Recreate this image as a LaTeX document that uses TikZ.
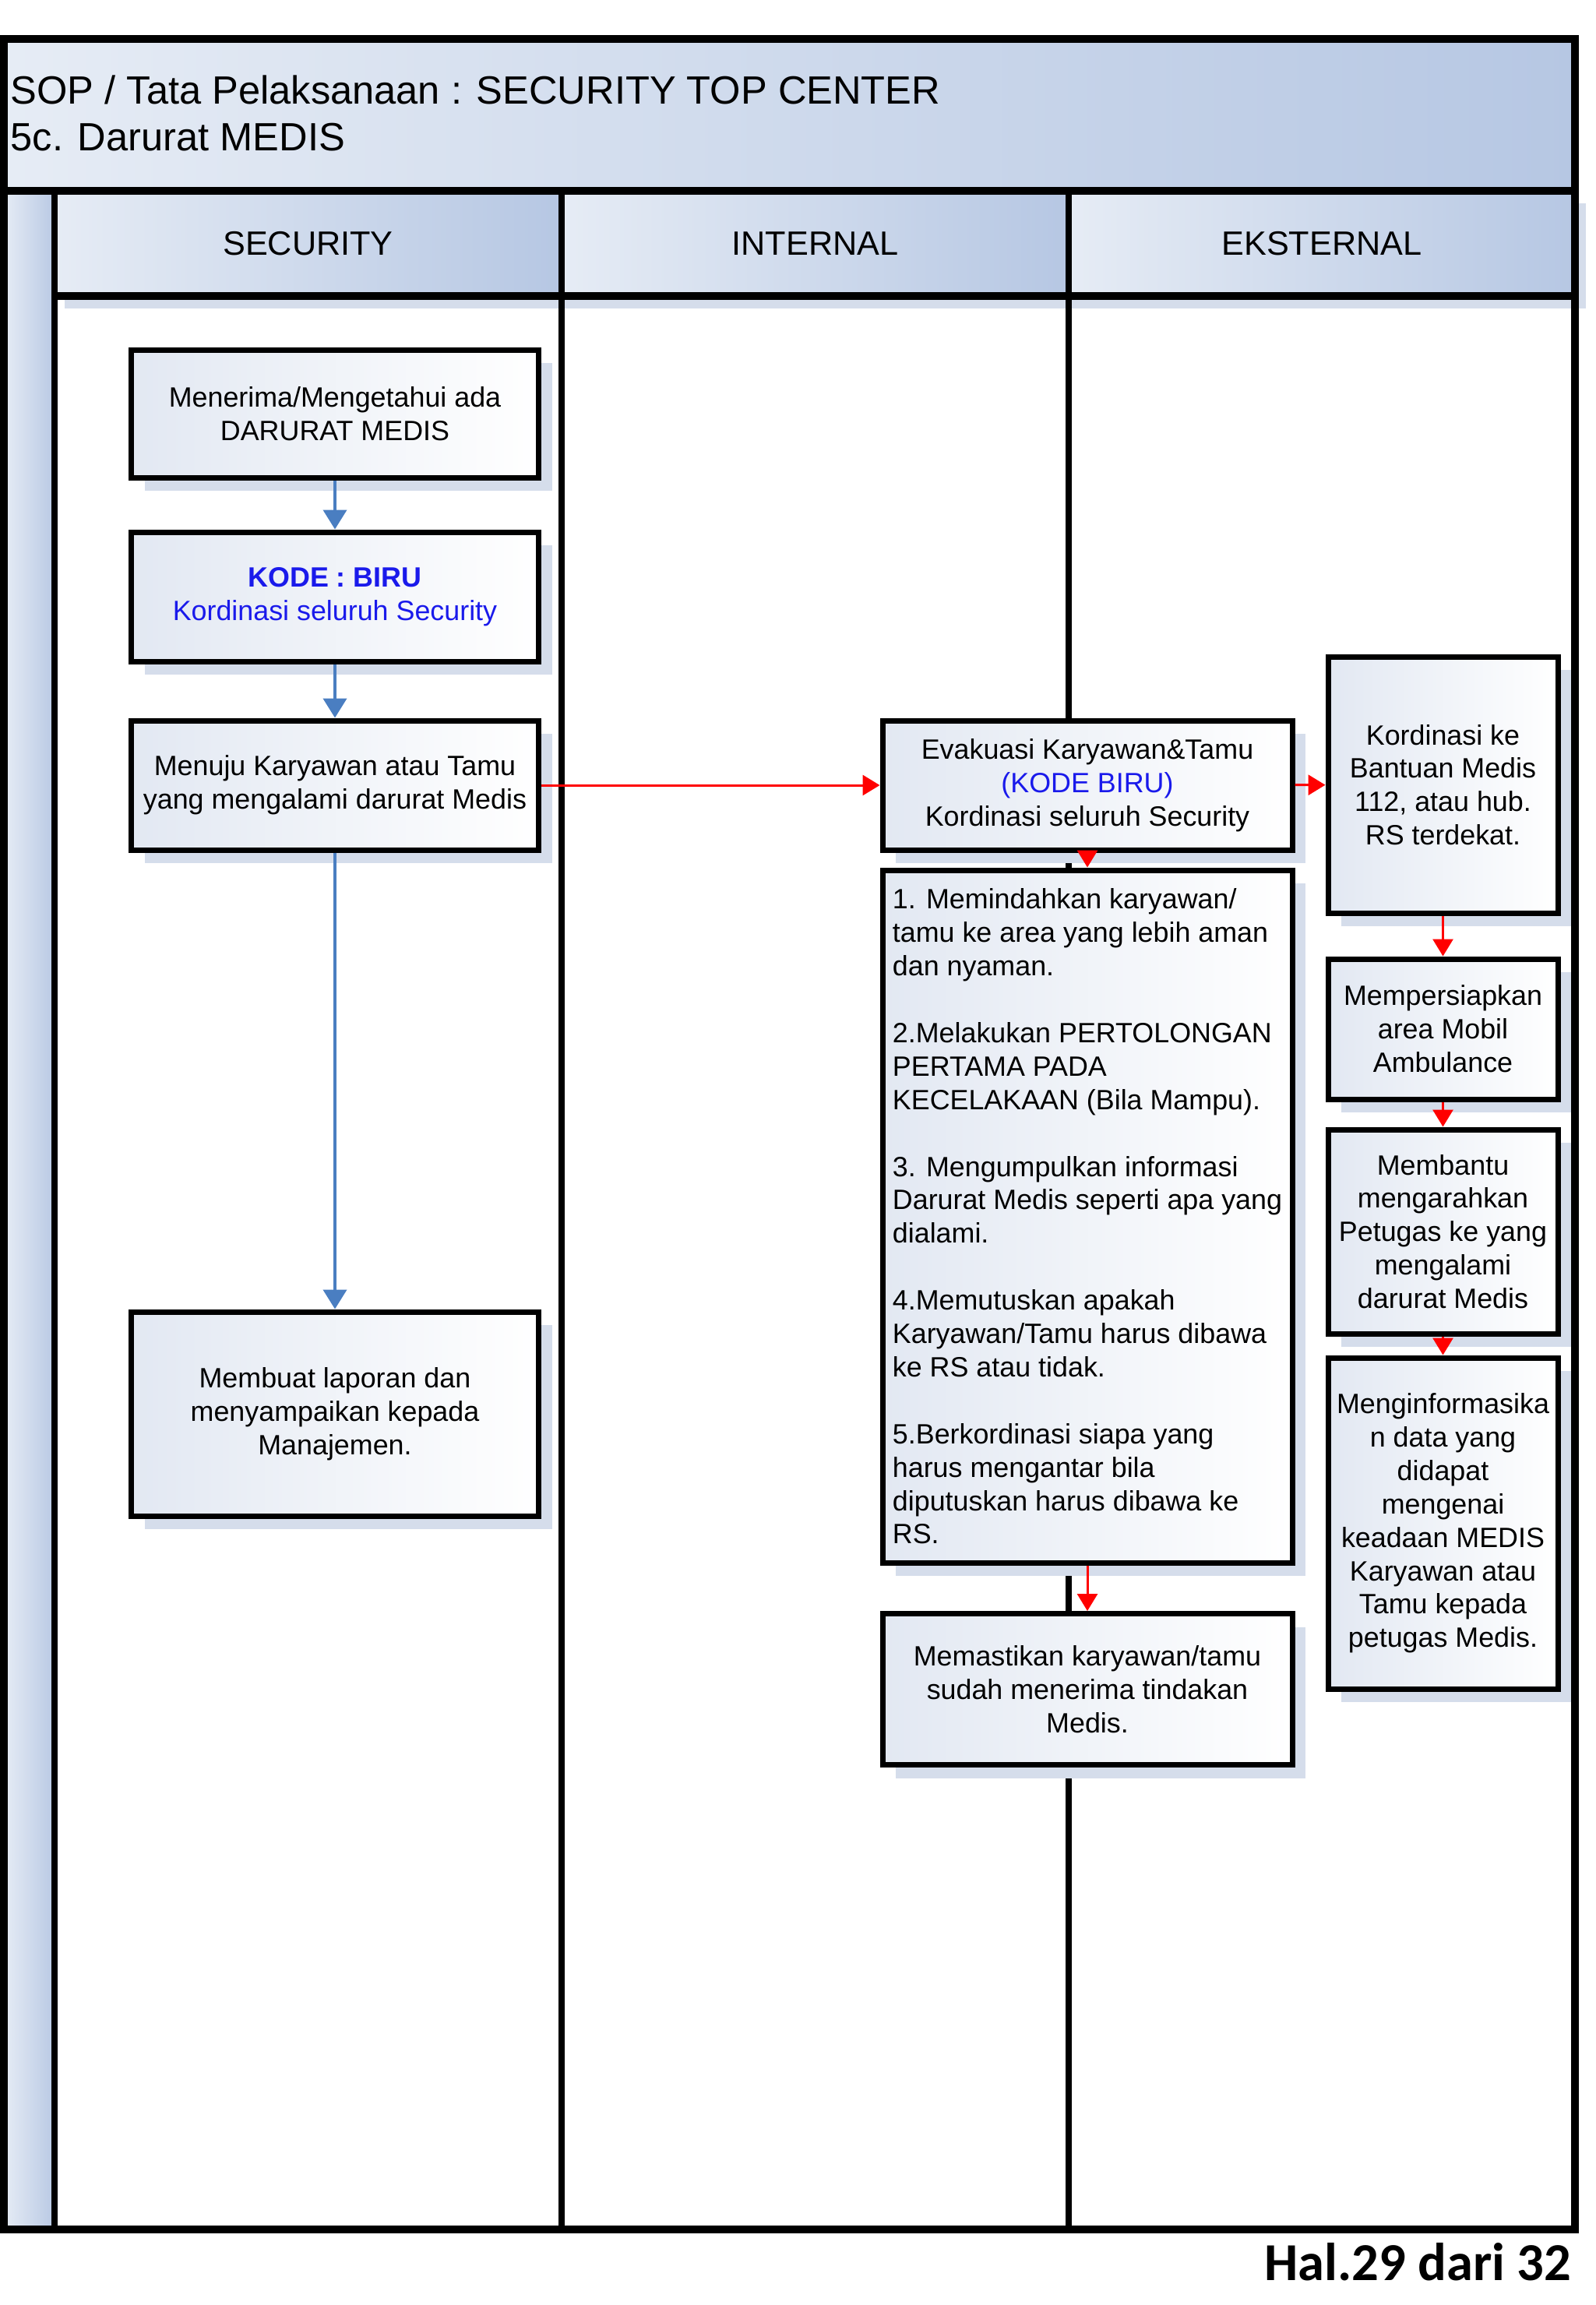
\documentclass[tikz,border=0pt]{standalone}
\usepackage{fontspec}
\setmainfont{Liberation Sans}
\newfontfamily\pagefont{Carlito}
\usetikzlibrary{arrows.meta,shadows}
\definecolor{headlight}{HTML}{E6ECF5}
\definecolor{headdark}{HTML}{B6C7E3}
\definecolor{stripblue}{HTML}{B9C9E4}
\definecolor{shadowblue}{HTML}{D5DDEB}
\definecolor{boxtint}{HTML}{E2E8F2}
\definecolor{flowblue}{HTML}{4A7EC1}
\definecolor{kodeblue}{HTML}{1A1AEB}

\begin{document}
\begin{tikzpicture}[
flownode/.style={rectangle, draw=black, line width=0.07cm, left color=boxtint, right color=white, drop shadow={shadow xshift=0.17cm, shadow yshift=-0.17cm, fill=shadowblue, opacity=1}, align=center, inner sep=0.05cm, font=\fontsize{10.2}{12.2}\selectfont},
secnode/.style={flownode, minimum width=5.23cm},
intnode/.style={flownode, minimum width=5.26cm},
extnode/.style={flownode, minimum width=2.95cm},
lanehead/.style={rectangle, left color=headlight, right color=headdark, minimum width=6.51cm, minimum height=1.35cm, drop shadow={shadow xshift=0.13cm, shadow yshift=-0.16cm, fill=shadowblue, opacity=1}, font=\fontsize{12.3}{14}\selectfont},
blueline/.style={-{Triangle[width=0.3cm,length=0.25cm]}, flowblue, line width=0.04cm},
redline/.style={-{Triangle[width=0.26cm,length=0.22cm]}, red, line width=0.03cm},
]
\useasboundingbox[fill=white] (0,0) rectangle (20.48,-29.59);
%Background
\shade[left color=headlight, right color=headdark] (0.05,-0.50) rectangle (20.22,-2.45);
\shade[left color=headlight, right color=stripblue] (0.05,-2.45) rectangle (0.70,-28.62);
\node[lanehead](laneSecurity) at(3.955,-3.125) {SECURITY};
\node[lanehead](laneInternal) at(10.465,-3.125) {INTERNAL};
\node[lanehead](laneEksternal) at(16.97,-3.125) {EKSTERNAL};
\node[anchor=west, align=left, inner sep=0, font=\fontsize{14.4}{17.3}\selectfont](judul) at(0.13,-1.455) {SOP / Tata Pelaksanaan : SECURITY TOP CENTER\\5c. Darurat MEDIS};
%Frame
\draw[line width=0.08cm] (0.70,-2.45) -- (0.70,-28.62);
\draw[line width=0.08cm] (7.21,-2.45) -- (7.21,-28.62);
\draw[line width=0.08cm] (13.72,-2.45) -- (13.72,-28.62);
\draw[line width=0.1cm] (0.70,-3.80) -- (20.22,-3.80);
\draw[line width=0.1cm] (0.05,-2.45) -- (20.22,-2.45);
\draw[line width=0.1cm] (0.05,-0.50) rectangle (20.22,-28.62);
%Nodes
\node[secnode, minimum height=1.64cm](terima) at(4.30,-5.31) {Menerima/Mengetahui ada\\DARURAT MEDIS};
\node[secnode, minimum height=1.66cm, text=kodeblue](kodeBiru) at(4.30,-7.66) {\textbf{KODE : BIRU}\\Kordinasi seluruh Security};
\node[secnode, minimum height=1.66cm](menuju) at(4.30,-10.08) {Menuju Karyawan atau Tamu\\yang mengalami darurat Medis};
\node[secnode, minimum height=2.62cm](laporan) at(4.30,-18.15) {Membuat laporan dan\\menyampaikan kepada\\Manajemen.};
\node[intnode, minimum height=1.66cm](evakuasi) at(13.96,-10.08) {Evakuasi Karyawan\&Tamu\\\textcolor{kodeblue}{(KODE BIRU)}\\Kordinasi seluruh Security};
\node[intnode, minimum height=8.89cm, align=left](tindakan) at(13.96,-15.615) {1. Memindahkan karyawan/\\tamu ke area yang lebih aman\\dan nyaman.\\[0.43cm]2.Melakukan PERTOLONGAN\\PERTAMA PADA\\KECELAKAAN (Bila Mampu).\\[0.43cm]3. Mengumpulkan informasi\\Darurat Medis seperti apa yang\\dialami.\\[0.43cm]4.Memutuskan apakah\\Karyawan/Tamu harus dibawa\\ke RS atau tidak.\\[0.43cm]5.Berkordinasi siapa yang\\harus mengantar bila\\diputuskan harus dibawa ke\\RS.};
\node[intnode, minimum height=1.94cm](memastikan) at(13.96,-21.685) {Memastikan karyawan/tamu\\sudah menerima tindakan\\Medis.};
\node[extnode, minimum height=3.29cm](bantuan) at(18.525,-10.075) {Kordinasi ke\\Bantuan Medis\\112, atau hub.\\RS terdekat.};
\node[extnode, minimum height=1.80cm](ambulance) at(18.525,-13.21) {Mempersiapkan\\area Mobil\\Ambulance};
\node[extnode, minimum height=2.62cm](arahkan) at(18.525,-15.81) {Membantu\\mengarahkan\\Petugas ke yang\\mengalami\\darurat Medis};
\node[extnode, minimum height=4.25cm](informasi) at(18.525,-19.555) {Menginformasika\\n data yang\\didapat\\mengenai\\keadaan MEDIS\\Karyawan atau\\Tamu kepada\\petugas Medis.};
\node[anchor=base east, inner sep=0, font=\pagefont\bfseries\fontsize{19.5}{23}\selectfont](halaman) at(20.18,-29.27) {Hal.29 dari 32};
%Lines
\draw[blueline] (terima) -- (kodeBiru);
\draw[blueline] (kodeBiru) -- (menuju);
\draw[blueline] (menuju) -- (laporan);
\draw[redline] (menuju) -- (evakuasi);
\draw[redline] (evakuasi) -- (bantuan);
\draw[redline] (evakuasi) -- (tindakan);
\draw[redline] (tindakan) -- (memastikan);
\draw[redline] (bantuan) -- (ambulance);
\draw[redline] (ambulance) -- (arahkan);
\draw[redline] (arahkan) -- (informasi);
\end{tikzpicture}
\end{document}
